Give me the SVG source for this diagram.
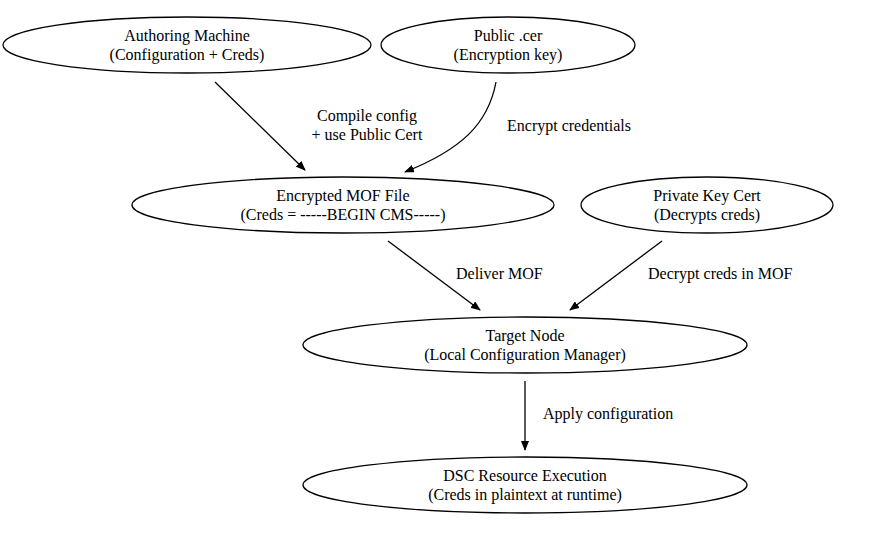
<svg xmlns="http://www.w3.org/2000/svg" width="877" height="534" viewBox="0 0 877 534">
<style>
ellipse{fill:#fff;stroke:#000;stroke-width:1.3}
text{font-family:"Liberation Serif",serif;font-size:16px;fill:#000}
.c{text-anchor:middle}
.e{fill:none;stroke:#000;stroke-width:1.3}
</style>
<defs><marker id="a" markerWidth="10" markerHeight="8" refX="9" refY="4" orient="auto" markerUnits="userSpaceOnUse"><path d="M0,0L10,4L0,8z" fill="#000"/></marker></defs>
<rect width="877" height="534" fill="#fff"/>
<g id="connectors">
<path class="e" d="M215,82L305,170" marker-end="url(#a)"/>
<path class="e" d="M496,82C488,125 460,150 405,172" marker-end="url(#a)"/>
<path class="e" d="M388,241L480,310" marker-end="url(#a)"/>
<path class="e" d="M662,241L570,310" marker-end="url(#a)"/>
<path class="e" d="M525,381L525,450" marker-end="url(#a)"/>
<text class="c" x="367" y="121">Compile config</text>
<text class="c" x="367" y="140">+ use Public Cert</text>
<text x="507" y="131">Encrypt credentials</text>
<text x="456" y="279">Deliver MOF</text>
<text x="648" y="279">Decrypt creds in MOF</text>
<text x="543" y="419">Apply configuration</text>
</g>
<g id="authoring"><ellipse cx="187" cy="45" rx="184" ry="28"/><text class="c" x="187" y="41">Authoring Machine</text><text class="c" x="187" y="60">(Configuration + Creds)</text></g>
<g id="publiccer"><ellipse cx="508" cy="45" rx="127" ry="28"/><text class="c" x="508" y="41">Public .cer</text><text class="c" x="508" y="60">(Encryption key)</text></g>
<g id="mof"><ellipse cx="343" cy="205" rx="211" ry="28"/><text class="c" x="343" y="201">Encrypted MOF File</text><text class="c" x="343" y="220">(Creds = -----BEGIN CMS-----)</text></g>
<g id="privkey"><ellipse cx="707" cy="205" rx="126" ry="28"/><text class="c" x="707" y="201">Private Key Cert</text><text class="c" x="707" y="220">(Decrypts creds)</text></g>
<g id="target"><ellipse cx="525" cy="345" rx="222" ry="28"/><text class="c" x="525" y="341">Target Node</text><text class="c" x="525" y="360">(Local Configuration Manager)</text></g>
<g id="dsc"><ellipse cx="525" cy="485" rx="222" ry="28"/><text class="c" x="525" y="481">DSC Resource Execution</text><text class="c" x="525" y="500">(Creds in plaintext at runtime)</text></g>
</svg>
